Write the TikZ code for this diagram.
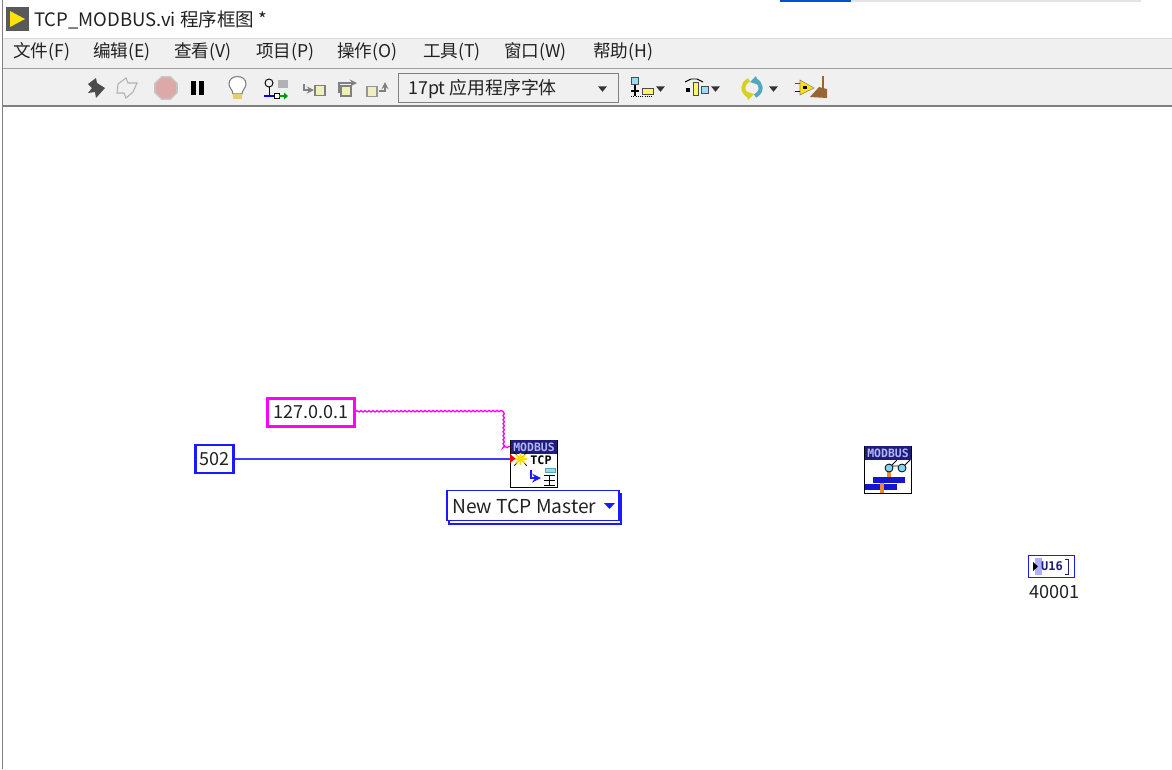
\documentclass[tikz,border=0pt]{standalone}
\usepackage{fontspec}
\setmainfont{Noto Sans CJK SC}
\newfontfamily\monofont{DejaVu Sans Mono}
\usetikzlibrary{decorations.pathmorphing,shapes.geometric}
\definecolor{barcolor}{HTML}{F0F0F0}
\definecolor{linecolor}{HTML}{A0A0A0}
\definecolor{wirepink}{HTML}{FF00FF}
\definecolor{wireblue}{HTML}{3C3CFF}
\definecolor{iconblue}{HTML}{1A1AFF}
\definecolor{bandblue}{HTML}{1E1E78}
\definecolor{bandtext}{HTML}{B4B4FF}
\definecolor{textcolor}{HTML}{222222}
\definecolor{tealicon}{HTML}{4FA8C0}
\definecolor{yellowicon}{HTML}{D8D020}
\definecolor{abortred}{HTML}{DDA8A8}
\definecolor{paleyellow}{HTML}{EFEFB8}
\begin{document}
\begin{tikzpicture}[x=0.75pt, y=-0.75pt,
  menunode/.style={anchor=base west, inner sep=0pt, font=\fontsize{13.2}{15}\selectfont, text=textcolor},
  textnode/.style={inner sep=0pt, font=\fontsize{13.6}{15}\selectfont, text=textcolor},
  constnode/.style={draw, fill=white, line width=2.2pt, inner sep=0pt, font=\fontsize{13.5}{15}\selectfont, text=textcolor},
  vinode/.style={draw=black, fill=white, line width=0.8pt, minimum size=35.4pt, inner sep=0pt},
  bandnode/.style={fill=bandblue, text=bandtext, inner sep=0pt, minimum width=34.5pt, minimum height=10.5pt, font=\monofont\bfseries\fontsize{8.6}{9}\selectfont},
  tinybox/.style={draw=gray, fill=paleyellow, line width=0.8pt, minimum size=7.5pt, inner sep=0pt},
  dropnode/.style={fill=black!80, isosceles triangle, shape border rotate=-90, isosceles triangle stretches, minimum width=6.5pt, minimum height=4pt, inner sep=0pt},
  ]
  \useasboundingbox (0,0) rectangle (1172,769);
  \fill[white] (0,0) rectangle (1172,769);

  % window bars
  \fill[barcolor] (3,38) rectangle (1172,106);
  \draw[gray!30, line width=0.75pt] (3,38.5) -- (1172,38.5);
  \draw[linecolor, line width=0.75pt] (3,68.5) -- (1172,68.5);
  \draw[gray, line width=1pt] (3,106) -- (1172,106);
  \draw[gray, line width=1pt] (2.5,0) -- (2.5,769);
  \fill[black!5!gray!20] (851,0) rectangle (1141,2);
  \fill[blue!60!cyan!80!black] (780,0) rectangle (851,2);

  % title
  \node[fill=black!65, minimum size=17.5pt, inner sep=0pt] (logo) at (17.5,19) {};
  \fill[yellow!85!orange] (10,11) -- (25,19) -- (10,27) -- cycle;
  \node[textnode, anchor=base west, font=\fontsize{13.9}{15}\selectfont] (title) at (34,26) {TCP\_MODBUS.vi 程序框图 *};

  % menu
  \node[menunode] (m1) at (13,57) {文件(F)};
  \node[menunode] (m2) at (93,57) {编辑(E)};
  \node[menunode] (m3) at (174,57) {查看(V)};
  \node[menunode] (m4) at (256,57) {项目(P)};
  \node[menunode] (m5) at (337,57) {操作(O)};
  \node[menunode] (m6) at (423,57) {工具(T)};
  \node[menunode] (m7) at (504,57) {窗口(W)};
  \node[menunode] (m8) at (593,57) {帮助(H)};

  % toolbar, left icons
  \fill[black!70] (88,84) -- (96,78) -- (97,83) -- (105,88) -- (96,98) -- (95,92) -- (88,93) -- (92,88) -- cycle;
  \draw[gray!60, line width=0.8pt] (118,84) -- (126,78) -- (128,83) -- (137,83) -- (133,92) -- (126,98) -- (124,93) -- (117,93) -- cycle;
  \node[draw=gray!45, fill=abortred, regular polygon, regular polygon sides=8, minimum size=18pt, inner sep=0pt, line width=1.1pt] (abort) at (166,88) {};
  \fill[black] (191,81) rectangle (195.5,95);
  \fill[black] (199,81) rectangle (203.5,95);
  \draw[gray, fill=white, line width=0.8pt] (233,94) .. controls (233,90) and (229,88) .. (229,84) .. controls (229,74) and (246,74) .. (246,84) .. controls (246,88) and (242,90) .. (242,94) -- cycle;
  \fill[yellow!40!brown!70!white] (233,94) rectangle (242,99);
  \draw[black, line width=0.7pt] (269,83) circle (4);
  \draw[black, line width=0.7pt] (269,87) -- (269,95);
  \fill[gray!60] (278,80) rectangle (288,88);
  \draw[blue, line width=0.8pt] (264,96) -- (274,96);
  \draw[black, fill=white, line width=0.7pt] (274,93) rectangle (279,98);
  \draw[green!60!black, line width=1pt] (279,96) -- (284,96);
  \fill[green!60!black] (284,92.5) -- (288,96) -- (284,99.5) -- cycle;
  \draw[gray, line width=1.4pt, -stealth] (304,84) -- (304,90) -- (314,90);
  \node[tinybox] (box1) at (320,90.5) {};
  \draw[gray, line width=1.4pt, -stealth] (339,93) -- (339,83) -- (357,83);
  \node[tinybox] (box2) at (346,91) {};
  \draw[gray, line width=1.4pt, -stealth] (379,91) -- (385,91) -- (385,82);
  \node[tinybox, opacity=.8] (box3) at (372,91.5) {};

  % font selector
  \node[draw=gray, fill=barcolor, line width=0.8pt, minimum width=165pt, minimum height=22pt, inner sep=0pt] (fontbox) at (508.5,88) {};
  \node[menunode, font=\fontsize{13.4}{15}\selectfont] (fontname) at (408,94) {17pt 应用程序字体};
  \node[dropnode] (fontdrop) at (602.5,88.5) {};

  % toolbar, right icons
  \node[draw=black!70, fill=cyan!40, line width=0.7pt, minimum size=5pt, inner sep=0pt] (a1) at (635,81) {};
  \draw[black, line width=0.8pt] (635,85) -- (635,96);
  \draw[black, line width=0.8pt] (631,91) -- (639,91);
  \draw[black, densely dotted, line width=0.7pt] (631,96) -- (652,96);
  \node[draw=black!70, fill=yellow!60, line width=0.7pt, minimum width=8pt, minimum height=4.5pt, inner sep=0pt] (a2) at (648,91) {};
  \node[dropnode] (adrop) at (660.5,88.5) {};
  \draw[black, line width=0.7pt] (685,82) -- (691,79) -- (697,79) -- (703,82);
  \fill[black] (686,88) rectangle (690,92);
  \node[draw=black!70, fill=yellow!60, line width=0.7pt, minimum width=3.5pt, minimum height=10pt, inner sep=0pt] (a3) at (696,89) {};
  \node[draw=black!70, fill=cyan!40, line width=0.7pt, minimum size=5pt, inner sep=0pt] (a4) at (705,90) {};
  \node[dropnode] (ddrop) at (715.5,88.5) {};
  \draw[yellowicon, line width=3pt] (749,80) .. controls (742,83) and (741,92) .. (749,96);
  \draw[tealicon, line width=3pt] (755,80) .. controls (762,83) and (763,92) .. (755,96);
  \fill[yellowicon] (745,91) -- (754,94) -- (748,100) -- cycle;
  \fill[tealicon] (759,85) -- (750,82) -- (756,76) -- cycle;
  \node[dropnode] (rdrop) at (773.5,88.5) {};
  \fill[yellow!85!orange, draw=gray, line width=0.4pt] (800,80) -- (814,88) -- (800,95) -- cycle;
  \fill[black] (803,86) rectangle (807,89);
  \draw[red, line width=0.7pt] (795,83) -- (800,83);
  \draw[blue, line width=0.7pt] (795,91) -- (800,91);
  \draw[brown!80!black, line width=1.6pt] (823,76) -- (823,90);
  \fill[brown!80!black] (810,97) -- (819,87) -- (827,89) -- (827,98) -- cycle;

  % block diagram
  \node[constnode, draw=wirepink, minimum width=65pt, minimum height=21pt] (ip) at (311,412.5) {127.0.0.1};
  \node[constnode, draw=iconblue, minimum width=28.5pt, minimum height=21pt] (port) at (214.5,459) {502};

  % new master vi
  \node[vinode] (open) at (534,464) {};
  \node[bandnode, anchor=north] (openband) at (open.north) {MODBUS};
  \draw[black, line width=0.5pt] (514,452) -- (527,466) (514,466) -- (527,452);
  \draw[yellow!80!orange, line width=1.3pt] (514,459) -- (527,459) (520.5,453) -- (520.5,465) (516,455) -- (525,463) (516,463) -- (525,455);
  \fill[red] (510,454) -- (515.5,458.5) -- (510,463) -- cycle;
  \node[inner sep=0pt, font=\monofont\bfseries\fontsize{8.8}{9}\selectfont] (tcp) at (541,460) {TCP};
  \draw[iconblue, line width=1.9pt, -stealth] (531,470) -- (531,478) -- (541,478);
  \draw[tealicon, fill=tealicon!50, line width=0.6pt] (545,468) rectangle (555,472);
  \draw[black, line width=0.7pt] (544,475) -- (555,475) (549,475) -- (549,486) (544,480) -- (555,480) (544,485) -- (555,485);

  % ring constant
  \node[draw=iconblue, fill=white, line width=0.9pt, minimum width=129pt, minimum height=22.5pt] (ringback) at (535,509) {};
  \node[draw=iconblue, fill=white, line width=0.9pt, minimum width=129pt, minimum height=22.5pt] (ring) at (533,505.5) {};
  \node[textnode, anchor=west, font=\fontsize{14.4}{16}\selectfont] (ringtext) at (452,506) {New TCP Master};
  \fill[iconblue] (604,503) -- (615,503) -- (609.5,509) -- cycle;

  % read vi
  \node[vinode] (read) at (888,470) {};
  \node[bandnode, anchor=north] (readband) at (read.north) {MODBUS};
  \fill[iconblue!80!black] (873,477) rectangle (905,483);
  \fill[iconblue!80!black] (865,484) rectangle (897,490);
  \fill[orange!60!brown!90!white] (887,470) rectangle (891,477);
  \fill[orange!60!brown!90!white] (880,483) rectangle (883.5,493);
  \draw[black, fill=cyan!50, line width=0.6pt] (889,468) circle (4);
  \draw[black, fill=cyan!50, line width=0.6pt] (902,468) circle (4);
  \draw[black, line width=0.6pt] (893,466) -- (898,466) (892,465) -- (897,460) (905,465) -- (910,460);

  % u16 constant
  \node[draw=iconblue, fill=white, line width=0.9pt, minimum width=34.5pt, minimum height=17pt] (reg) at (1051.5,566.5) {};
  \fill[iconblue!35] (1035,558) rectangle (1042,575);
  \fill[black] (1033,562) -- (1038,566.5) -- (1033,571) -- cycle;
  \node[inner sep=0pt, text=bandblue, font=\monofont\bfseries\fontsize{9}{10}\selectfont] (regtype) at (1052,566.5) {U16};
  \draw[bandblue, line width=0.7pt] (1065,559) -- (1068,559) -- (1068,574) -- (1065,574);
  \node[textnode, anchor=west] (reglabel) at (1029,592) {40001};

  % wires
  \path [line width=0.9pt, wireblue, draw] (port) -- (open.west |- port);
  \draw [wirepink, line width=1pt, decorate, decoration={snake, amplitude=0.5pt, segment length=3pt}] ([yshift=0.9pt]ip.east) -- (502.5,411) -- (502.5,446.5) -- (open.west |- 0,446.5);
\end{tikzpicture}
\end{document}
